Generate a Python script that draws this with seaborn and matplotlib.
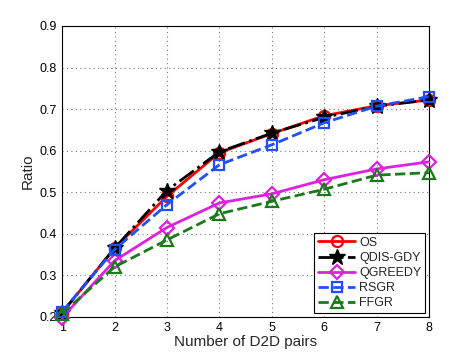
import matplotlib
matplotlib.use("Agg")
import matplotlib.pyplot as plt
import seaborn as sns
import pandas as pd

x_pairs = [1, 2, 3, 4, 5, 6, 7, 8]
os_vals = [0.21, 0.365, 0.49, 0.595, 0.641, 0.684, 0.708, 0.722]
qdis_vals = [0.21, 0.365, 0.504, 0.597, 0.642, 0.680, 0.707, 0.722]
qgreedy_vals = [0.198, 0.335, 0.415, 0.474, 0.496, 0.530, 0.556, 0.573]
rsgr_vals = [0.212, 0.362, 0.470, 0.566, 0.614, 0.667, 0.707, 0.730]
ffgr_vals = [0.208, 0.320, 0.385, 0.448, 0.478, 0.507, 0.541, 0.547]
series_names = ["OS", "QDIS-GDY", "QGREEDY", "RSGR", "FFGR"]
y_ticks = [0.2, 0.3, 0.4, 0.5, 0.6, 0.7, 0.8, 0.9]

sns.set_style("white")
plt.rcParams['font.family'] = ['Liberation Sans', 'DejaVu Sans']

fig = plt.figure(figsize=(4.74, 3.56), dpi=100)
ax = fig.add_axes([0.131, 0.110, 0.774, 0.817])

styles = {
    "OS": dict(color="#ff0000", marker="o", linestyle="-", mfc="none", ms=8, mew=1.6),
    "QDIS-GDY": dict(color="black", marker="*", linestyle="-.", mfc="black", ms=12, mew=1.0),
    "QGREEDY": dict(color="#e020e0", marker="D", linestyle="-", mfc="none", ms=7, mew=1.6),
    "RSGR": dict(color="#1f4fff", marker="s", linestyle="--", mfc="none", ms=7, mew=1.6),
    "FFGR": dict(color="#1a7a1a", marker="^", linestyle="--", mfc="none", ms=9, mew=1.6),
}
vals = [os_vals, qdis_vals, qgreedy_vals, rsgr_vals, ffgr_vals]

for name, v in zip(series_names, vals):
    df = pd.DataFrame({"x": x_pairs, "y": v})
    st = styles[name]
    sns.lineplot(data=df, x="x", y="y", ax=ax, color=st["color"], linewidth=2,
                 marker=st["marker"], linestyle=st["linestyle"],
                 markerfacecolor=st["mfc"], markeredgecolor=st["color"],
                 markersize=st["ms"], markeredgewidth=st["mew"], label=name,
                 clip_on=False, zorder=3)

ax.set_xlim(1, 8)
ax.set_ylim(0.2, 0.9)
ax.set_xticks(x_pairs)
ax.set_yticks(y_ticks)
ax.set_yticklabels([f"{t:.1f}" for t in y_ticks])
ax.tick_params(direction="in", labelsize=9, length=4, colors="black")
ax.grid(True, linestyle=(0, (1, 3)), color="#777777", linewidth=0.8)
ax.set_axisbelow(True)
for s in ax.spines.values():
    s.set_color("black")
    s.set_linewidth(0.8)
ax.set_xlabel("Number of D2D pairs", fontsize=11, labelpad=1)
ax.set_ylabel("Ratio", fontsize=11, labelpad=4)

leg = ax.legend(loc="lower right", fontsize=9, frameon=True, fancybox=False,
                edgecolor="black", framealpha=1, borderpad=0.3, labelspacing=0.25,
                handlelength=3.0, handletextpad=0.3, borderaxespad=0.3)
leg.get_frame().set_linewidth(0.8)
leg.set_zorder(5)

fig.savefig("out.png", dpi=100)
